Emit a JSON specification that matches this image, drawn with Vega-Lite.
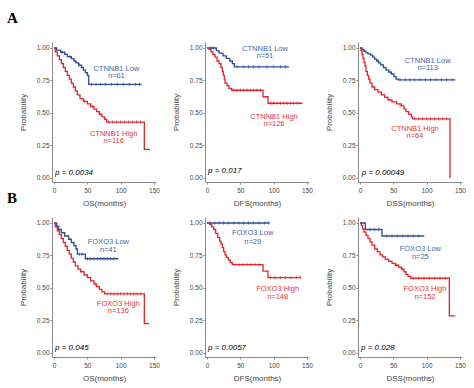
{
"$schema": "https://vega.github.io/schema/vega-lite/v6.json",
"padding": {"left": 7, "top": 11, "right": 5, "bottom": 5},
"background": "white",
"config": {
 "font": "Liberation Sans",
 "view": {"stroke": null},
 "axis": {"grid": false, "domainColor": "#8a8a8a", "tickColor": "#8a8a8a", "tickSize": 2, "labelColor": "#444", "labelFontSize": 6.5, "titleColor": "#444", "titleFontSize": 8, "titleFontWeight": "normal"},
 "axisX": {"labelPadding": 3, "titlePadding": 6},
 "axisY": {"labelPadding": 1, "titlePadding": 9}
},
"data": {"values": [
{"p":"A1","g":"Low","k":"l","t":0,"s":1},{"p":"A1","g":"Low","k":"l","t":4,"s":0.984},{"p":"A1","g":"Low","k":"l","t":10,"s":0.967},{"p":"A1","g":"Low","k":"l","t":16,"s":0.951},{"p":"A1","g":"Low","k":"l","t":20,"s":0.934},{"p":"A1","g":"Low","k":"l","t":26,"s":0.918},{"p":"A1","g":"Low","k":"l","t":30,"s":0.9},{"p":"A1","g":"Low","k":"l","t":33,"s":0.885},{"p":"A1","g":"Low","k":"l","t":37,"s":0.868},{"p":"A1","g":"Low","k":"l","t":41,"s":0.85},{"p":"A1","g":"Low","k":"l","t":44,"s":0.83},{"p":"A1","g":"Low","k":"l","t":47,"s":0.81},{"p":"A1","g":"Low","k":"l","t":50,"s":0.79},{"p":"A1","g":"Low","k":"l","t":52,"s":0.72},{"p":"A1","g":"Low","k":"l","t":131.5,"s":0.72},
{"p":"A1","g":"High","k":"l","t":0,"s":1},{"p":"A1","g":"High","k":"l","t":2,"s":0.97},{"p":"A1","g":"High","k":"l","t":5,"s":0.94},{"p":"A1","g":"High","k":"l","t":8,"s":0.91},{"p":"A1","g":"High","k":"l","t":11,"s":0.88},{"p":"A1","g":"High","k":"l","t":14,"s":0.85},{"p":"A1","g":"High","k":"l","t":17,"s":0.82},{"p":"A1","g":"High","k":"l","t":20,"s":0.79},{"p":"A1","g":"High","k":"l","t":23,"s":0.76},{"p":"A1","g":"High","k":"l","t":26,"s":0.73},{"p":"A1","g":"High","k":"l","t":29,"s":0.7},{"p":"A1","g":"High","k":"l","t":32,"s":0.67},{"p":"A1","g":"High","k":"l","t":35,"s":0.64},{"p":"A1","g":"High","k":"l","t":39,"s":0.61},{"p":"A1","g":"High","k":"l","t":44,"s":0.59},{"p":"A1","g":"High","k":"l","t":50,"s":0.57},{"p":"A1","g":"High","k":"l","t":55,"s":0.55},{"p":"A1","g":"High","k":"l","t":60,"s":0.53},{"p":"A1","g":"High","k":"l","t":64,"s":0.51},{"p":"A1","g":"High","k":"l","t":68,"s":0.49},{"p":"A1","g":"High","k":"l","t":72,"s":0.47},{"p":"A1","g":"High","k":"l","t":76,"s":0.45},{"p":"A1","g":"High","k":"l","t":79,"s":0.43},{"p":"A1","g":"High","k":"l","t":135.5,"s":0.22},{"p":"A1","g":"High","k":"l","t":144,"s":0.22},
{"p":"A2","g":"Low","k":"l","t":0,"s":1},{"p":"A2","g":"Low","k":"l","t":14,"s":0.98},{"p":"A2","g":"Low","k":"l","t":18,"s":0.96},{"p":"A2","g":"Low","k":"l","t":24,"s":0.94},{"p":"A2","g":"Low","k":"l","t":29,"s":0.92},{"p":"A2","g":"Low","k":"l","t":34,"s":0.9},{"p":"A2","g":"Low","k":"l","t":38,"s":0.88},{"p":"A2","g":"Low","k":"l","t":41,"s":0.855},{"p":"A2","g":"Low","k":"l","t":123,"s":0.855},
{"p":"A2","g":"High","k":"l","t":0,"s":1},{"p":"A2","g":"High","k":"l","t":3,"s":0.99},{"p":"A2","g":"High","k":"l","t":6,"s":0.97},{"p":"A2","g":"High","k":"l","t":9,"s":0.95},{"p":"A2","g":"High","k":"l","t":12,"s":0.93},{"p":"A2","g":"High","k":"l","t":15,"s":0.9},{"p":"A2","g":"High","k":"l","t":18,"s":0.88},{"p":"A2","g":"High","k":"l","t":21,"s":0.85},{"p":"A2","g":"High","k":"l","t":23,"s":0.82},{"p":"A2","g":"High","k":"l","t":24.5,"s":0.79},{"p":"A2","g":"High","k":"l","t":26,"s":0.76},{"p":"A2","g":"High","k":"l","t":27,"s":0.73},{"p":"A2","g":"High","k":"l","t":30,"s":0.71},{"p":"A2","g":"High","k":"l","t":33,"s":0.69},{"p":"A2","g":"High","k":"l","t":37,"s":0.675},{"p":"A2","g":"High","k":"l","t":84,"s":0.625},{"p":"A2","g":"High","k":"l","t":91.5,"s":0.575},{"p":"A2","g":"High","k":"l","t":143,"s":0.575},
{"p":"A3","g":"Low","k":"l","t":0,"s":1},{"p":"A3","g":"Low","k":"l","t":3,"s":0.99},{"p":"A3","g":"Low","k":"l","t":6,"s":0.975},{"p":"A3","g":"Low","k":"l","t":9,"s":0.965},{"p":"A3","g":"Low","k":"l","t":12,"s":0.955},{"p":"A3","g":"Low","k":"l","t":16,"s":0.945},{"p":"A3","g":"Low","k":"l","t":19,"s":0.93},{"p":"A3","g":"Low","k":"l","t":22,"s":0.915},{"p":"A3","g":"Low","k":"l","t":25,"s":0.9},{"p":"A3","g":"Low","k":"l","t":28,"s":0.885},{"p":"A3","g":"Low","k":"l","t":31,"s":0.87},{"p":"A3","g":"Low","k":"l","t":35,"s":0.85},{"p":"A3","g":"Low","k":"l","t":39,"s":0.83},{"p":"A3","g":"Low","k":"l","t":43,"s":0.815},{"p":"A3","g":"Low","k":"l","t":47,"s":0.8},{"p":"A3","g":"Low","k":"l","t":51,"s":0.78},{"p":"A3","g":"Low","k":"l","t":54,"s":0.76},{"p":"A3","g":"Low","k":"l","t":57,"s":0.755},{"p":"A3","g":"Low","k":"l","t":143,"s":0.755},
{"p":"A3","g":"High","k":"l","t":0,"s":1},{"p":"A3","g":"High","k":"l","t":1.5,"s":0.98},{"p":"A3","g":"High","k":"l","t":3,"s":0.95},{"p":"A3","g":"High","k":"l","t":4.5,"s":0.92},{"p":"A3","g":"High","k":"l","t":6,"s":0.89},{"p":"A3","g":"High","k":"l","t":7.5,"s":0.86},{"p":"A3","g":"High","k":"l","t":9,"s":0.82},{"p":"A3","g":"High","k":"l","t":11,"s":0.79},{"p":"A3","g":"High","k":"l","t":13,"s":0.76},{"p":"A3","g":"High","k":"l","t":15,"s":0.73},{"p":"A3","g":"High","k":"l","t":18,"s":0.7},{"p":"A3","g":"High","k":"l","t":22,"s":0.68},{"p":"A3","g":"High","k":"l","t":27,"s":0.66},{"p":"A3","g":"High","k":"l","t":32,"s":0.64},{"p":"A3","g":"High","k":"l","t":37,"s":0.62},{"p":"A3","g":"High","k":"l","t":42,"s":0.6},{"p":"A3","g":"High","k":"l","t":48,"s":0.585},{"p":"A3","g":"High","k":"l","t":55,"s":0.57},{"p":"A3","g":"High","k":"l","t":62,"s":0.555},{"p":"A3","g":"High","k":"l","t":66,"s":0.53},{"p":"A3","g":"High","k":"l","t":69,"s":0.51},{"p":"A3","g":"High","k":"l","t":73,"s":0.49},{"p":"A3","g":"High","k":"l","t":77,"s":0.47},{"p":"A3","g":"High","k":"l","t":79,"s":0.455},{"p":"A3","g":"High","k":"l","t":135,"s":0},
{"p":"B1","g":"Low","k":"l","t":0,"s":1},{"p":"B1","g":"Low","k":"l","t":4,"s":0.975},{"p":"B1","g":"Low","k":"l","t":7,"s":0.95},{"p":"B1","g":"Low","k":"l","t":11,"s":0.925},{"p":"B1","g":"Low","k":"l","t":16,"s":0.9},{"p":"B1","g":"Low","k":"l","t":22,"s":0.875},{"p":"B1","g":"Low","k":"l","t":26,"s":0.85},{"p":"B1","g":"Low","k":"l","t":30,"s":0.825},{"p":"B1","g":"Low","k":"l","t":33,"s":0.8},{"p":"B1","g":"Low","k":"l","t":35,"s":0.76},{"p":"B1","g":"Low","k":"l","t":47,"s":0.725},{"p":"B1","g":"Low","k":"l","t":96.5,"s":0.725},
{"p":"B1","g":"High","k":"l","t":0,"s":1},{"p":"B1","g":"High","k":"l","t":2,"s":0.97},{"p":"B1","g":"High","k":"l","t":5,"s":0.94},{"p":"B1","g":"High","k":"l","t":8,"s":0.91},{"p":"B1","g":"High","k":"l","t":11,"s":0.88},{"p":"B1","g":"High","k":"l","t":14,"s":0.85},{"p":"B1","g":"High","k":"l","t":17,"s":0.82},{"p":"B1","g":"High","k":"l","t":20,"s":0.79},{"p":"B1","g":"High","k":"l","t":23,"s":0.76},{"p":"B1","g":"High","k":"l","t":26,"s":0.73},{"p":"B1","g":"High","k":"l","t":29,"s":0.7},{"p":"B1","g":"High","k":"l","t":32,"s":0.67},{"p":"B1","g":"High","k":"l","t":36,"s":0.645},{"p":"B1","g":"High","k":"l","t":40,"s":0.625},{"p":"B1","g":"High","k":"l","t":45,"s":0.6},{"p":"B1","g":"High","k":"l","t":50,"s":0.58},{"p":"B1","g":"High","k":"l","t":55,"s":0.555},{"p":"B1","g":"High","k":"l","t":60,"s":0.53},{"p":"B1","g":"High","k":"l","t":64,"s":0.51},{"p":"B1","g":"High","k":"l","t":68,"s":0.49},{"p":"B1","g":"High","k":"l","t":72,"s":0.47},{"p":"B1","g":"High","k":"l","t":76,"s":0.455},{"p":"B1","g":"High","k":"l","t":135.5,"s":0.225},{"p":"B1","g":"High","k":"l","t":142.5,"s":0.225},
{"p":"B2","g":"Low","k":"l","t":0,"s":1},{"p":"B2","g":"Low","k":"l","t":94,"s":1},
{"p":"B2","g":"High","k":"l","t":0,"s":1},{"p":"B2","g":"High","k":"l","t":4,"s":0.99},{"p":"B2","g":"High","k":"l","t":7,"s":0.97},{"p":"B2","g":"High","k":"l","t":10,"s":0.95},{"p":"B2","g":"High","k":"l","t":13,"s":0.92},{"p":"B2","g":"High","k":"l","t":16,"s":0.89},{"p":"B2","g":"High","k":"l","t":19,"s":0.86},{"p":"B2","g":"High","k":"l","t":21,"s":0.84},{"p":"B2","g":"High","k":"l","t":23,"s":0.81},{"p":"B2","g":"High","k":"l","t":25,"s":0.78},{"p":"B2","g":"High","k":"l","t":27,"s":0.755},{"p":"B2","g":"High","k":"l","t":29,"s":0.735},{"p":"B2","g":"High","k":"l","t":32,"s":0.715},{"p":"B2","g":"High","k":"l","t":35,"s":0.695},{"p":"B2","g":"High","k":"l","t":38,"s":0.68},{"p":"B2","g":"High","k":"l","t":84,"s":0.63},{"p":"B2","g":"High","k":"l","t":91.5,"s":0.58},{"p":"B2","g":"High","k":"l","t":141.5,"s":0.58},
{"p":"B3","g":"Low","k":"l","t":0,"s":1},{"p":"B3","g":"Low","k":"l","t":8,"s":0.95},{"p":"B3","g":"Low","k":"l","t":33,"s":0.9},{"p":"B3","g":"Low","k":"l","t":96.5,"s":0.9},
{"p":"B3","g":"High","k":"l","t":0,"s":1},{"p":"B3","g":"High","k":"l","t":2,"s":0.98},{"p":"B3","g":"High","k":"l","t":4,"s":0.955},{"p":"B3","g":"High","k":"l","t":6,"s":0.93},{"p":"B3","g":"High","k":"l","t":9,"s":0.905},{"p":"B3","g":"High","k":"l","t":12,"s":0.88},{"p":"B3","g":"High","k":"l","t":15,"s":0.855},{"p":"B3","g":"High","k":"l","t":18,"s":0.83},{"p":"B3","g":"High","k":"l","t":22,"s":0.8},{"p":"B3","g":"High","k":"l","t":26,"s":0.78},{"p":"B3","g":"High","k":"l","t":30,"s":0.755},{"p":"B3","g":"High","k":"l","t":34,"s":0.74},{"p":"B3","g":"High","k":"l","t":38,"s":0.72},{"p":"B3","g":"High","k":"l","t":43,"s":0.705},{"p":"B3","g":"High","k":"l","t":48,"s":0.69},{"p":"B3","g":"High","k":"l","t":53,"s":0.675},{"p":"B3","g":"High","k":"l","t":58,"s":0.66},{"p":"B3","g":"High","k":"l","t":62,"s":0.645},{"p":"B3","g":"High","k":"l","t":66,"s":0.625},{"p":"B3","g":"High","k":"l","t":69,"s":0.605},{"p":"B3","g":"High","k":"l","t":72,"s":0.59},{"p":"B3","g":"High","k":"l","t":76,"s":0.575},{"p":"B3","g":"High","k":"l","t":134,"s":0.285},{"p":"B3","g":"High","k":"l","t":143,"s":0.285},

{"p":"A1","g":"Low","k":"c","t":12,"s":0.967},{"p":"A1","g":"Low","k":"c","t":24,"s":0.934},{"p":"A1","g":"Low","k":"c","t":38,"s":0.868},{"p":"A1","g":"Low","k":"c","t":56,"s":0.72},{"p":"A1","g":"Low","k":"c","t":63,"s":0.72},{"p":"A1","g":"Low","k":"c","t":70,"s":0.72},{"p":"A1","g":"Low","k":"c","t":77,"s":0.72},{"p":"A1","g":"Low","k":"c","t":86,"s":0.72},{"p":"A1","g":"Low","k":"c","t":95,"s":0.72},{"p":"A1","g":"Low","k":"c","t":104,"s":0.72},{"p":"A1","g":"Low","k":"c","t":113,"s":0.72},{"p":"A1","g":"Low","k":"c","t":122,"s":0.72},{"p":"A1","g":"Low","k":"c","t":128,"s":0.72},
{"p":"A1","g":"High","k":"c","t":46,"s":0.59},{"p":"A1","g":"High","k":"c","t":58,"s":0.55},{"p":"A1","g":"High","k":"c","t":70,"s":0.49},{"p":"A1","g":"High","k":"c","t":82,"s":0.43},{"p":"A1","g":"High","k":"c","t":88,"s":0.43},{"p":"A1","g":"High","k":"c","t":94,"s":0.43},{"p":"A1","g":"High","k":"c","t":100,"s":0.43},{"p":"A1","g":"High","k":"c","t":106,"s":0.43},{"p":"A1","g":"High","k":"c","t":112,"s":0.43},{"p":"A1","g":"High","k":"c","t":118,"s":0.43},{"p":"A1","g":"High","k":"c","t":124,"s":0.43},{"p":"A1","g":"High","k":"c","t":130,"s":0.43},
{"p":"A2","g":"Low","k":"c","t":6,"s":1},{"p":"A2","g":"Low","k":"c","t":10,"s":1},{"p":"A2","g":"Low","k":"c","t":45,"s":0.855},{"p":"A2","g":"Low","k":"c","t":55,"s":0.855},{"p":"A2","g":"Low","k":"c","t":62,"s":0.855},{"p":"A2","g":"Low","k":"c","t":70,"s":0.855},{"p":"A2","g":"Low","k":"c","t":78,"s":0.855},{"p":"A2","g":"Low","k":"c","t":90,"s":0.855},{"p":"A2","g":"Low","k":"c","t":100,"s":0.855},{"p":"A2","g":"Low","k":"c","t":110,"s":0.855},{"p":"A2","g":"Low","k":"c","t":118,"s":0.855},
{"p":"A2","g":"High","k":"c","t":40,"s":0.675},{"p":"A2","g":"High","k":"c","t":45,"s":0.675},{"p":"A2","g":"High","k":"c","t":50,"s":0.675},{"p":"A2","g":"High","k":"c","t":55,"s":0.675},{"p":"A2","g":"High","k":"c","t":60,"s":0.675},{"p":"A2","g":"High","k":"c","t":65,"s":0.675},{"p":"A2","g":"High","k":"c","t":70,"s":0.675},{"p":"A2","g":"High","k":"c","t":75,"s":0.675},{"p":"A2","g":"High","k":"c","t":80,"s":0.675},{"p":"A2","g":"High","k":"c","t":95,"s":0.575},{"p":"A2","g":"High","k":"c","t":100,"s":0.575},{"p":"A2","g":"High","k":"c","t":105,"s":0.575},{"p":"A2","g":"High","k":"c","t":110,"s":0.575},{"p":"A2","g":"High","k":"c","t":115,"s":0.575},{"p":"A2","g":"High","k":"c","t":120,"s":0.575},{"p":"A2","g":"High","k":"c","t":125,"s":0.575},{"p":"A2","g":"High","k":"c","t":130,"s":0.575},{"p":"A2","g":"High","k":"c","t":136,"s":0.575},
{"p":"A3","g":"Low","k":"c","t":27,"s":0.9},{"p":"A3","g":"Low","k":"c","t":45,"s":0.815},{"p":"A3","g":"Low","k":"c","t":60,"s":0.755},{"p":"A3","g":"Low","k":"c","t":68,"s":0.755},{"p":"A3","g":"Low","k":"c","t":75,"s":0.755},{"p":"A3","g":"Low","k":"c","t":82,"s":0.755},{"p":"A3","g":"Low","k":"c","t":90,"s":0.755},{"p":"A3","g":"Low","k":"c","t":98,"s":0.755},{"p":"A3","g":"Low","k":"c","t":106,"s":0.755},{"p":"A3","g":"Low","k":"c","t":114,"s":0.755},{"p":"A3","g":"Low","k":"c","t":122,"s":0.755},{"p":"A3","g":"Low","k":"c","t":130,"s":0.755},{"p":"A3","g":"Low","k":"c","t":138,"s":0.755},
{"p":"A3","g":"High","k":"c","t":60,"s":0.555},{"p":"A3","g":"High","k":"c","t":82,"s":0.455},{"p":"A3","g":"High","k":"c","t":88,"s":0.455},{"p":"A3","g":"High","k":"c","t":94,"s":0.455},{"p":"A3","g":"High","k":"c","t":100,"s":0.455},{"p":"A3","g":"High","k":"c","t":106,"s":0.455},{"p":"A3","g":"High","k":"c","t":112,"s":0.455},{"p":"A3","g":"High","k":"c","t":118,"s":0.455},{"p":"A3","g":"High","k":"c","t":124,"s":0.455},{"p":"A3","g":"High","k":"c","t":130,"s":0.455},
{"p":"B1","g":"Low","k":"c","t":38,"s":0.76},{"p":"B1","g":"Low","k":"c","t":42,"s":0.76},{"p":"B1","g":"Low","k":"c","t":50,"s":0.725},{"p":"B1","g":"Low","k":"c","t":55,"s":0.725},{"p":"B1","g":"Low","k":"c","t":60,"s":0.725},{"p":"B1","g":"Low","k":"c","t":65,"s":0.725},{"p":"B1","g":"Low","k":"c","t":70,"s":0.725},{"p":"B1","g":"Low","k":"c","t":75,"s":0.725},{"p":"B1","g":"Low","k":"c","t":80,"s":0.725},{"p":"B1","g":"Low","k":"c","t":85,"s":0.725},{"p":"B1","g":"Low","k":"c","t":90,"s":0.725},
{"p":"B1","g":"High","k":"c","t":62,"s":0.53},{"p":"B1","g":"High","k":"c","t":80,"s":0.455},{"p":"B1","g":"High","k":"c","t":85,"s":0.455},{"p":"B1","g":"High","k":"c","t":90,"s":0.455},{"p":"B1","g":"High","k":"c","t":95,"s":0.455},{"p":"B1","g":"High","k":"c","t":100,"s":0.455},{"p":"B1","g":"High","k":"c","t":105,"s":0.455},{"p":"B1","g":"High","k":"c","t":110,"s":0.455},{"p":"B1","g":"High","k":"c","t":115,"s":0.455},{"p":"B1","g":"High","k":"c","t":120,"s":0.455},{"p":"B1","g":"High","k":"c","t":125,"s":0.455},{"p":"B1","g":"High","k":"c","t":130,"s":0.455},
{"p":"B2","g":"Low","k":"c","t":5,"s":1},{"p":"B2","g":"Low","k":"c","t":12,"s":1},{"p":"B2","g":"Low","k":"c","t":18,"s":1},{"p":"B2","g":"Low","k":"c","t":25,"s":1},{"p":"B2","g":"Low","k":"c","t":32,"s":1},{"p":"B2","g":"Low","k":"c","t":40,"s":1},{"p":"B2","g":"Low","k":"c","t":48,"s":1},{"p":"B2","g":"Low","k":"c","t":55,"s":1},{"p":"B2","g":"Low","k":"c","t":62,"s":1},{"p":"B2","g":"Low","k":"c","t":70,"s":1},{"p":"B2","g":"Low","k":"c","t":78,"s":1},{"p":"B2","g":"Low","k":"c","t":86,"s":1},{"p":"B2","g":"Low","k":"c","t":92,"s":1},
{"p":"B2","g":"High","k":"c","t":42,"s":0.68},{"p":"B2","g":"High","k":"c","t":48,"s":0.68},{"p":"B2","g":"High","k":"c","t":54,"s":0.68},{"p":"B2","g":"High","k":"c","t":60,"s":0.68},{"p":"B2","g":"High","k":"c","t":66,"s":0.68},{"p":"B2","g":"High","k":"c","t":72,"s":0.68},{"p":"B2","g":"High","k":"c","t":78,"s":0.68},{"p":"B2","g":"High","k":"c","t":95,"s":0.58},{"p":"B2","g":"High","k":"c","t":102,"s":0.58},{"p":"B2","g":"High","k":"c","t":110,"s":0.58},{"p":"B2","g":"High","k":"c","t":118,"s":0.58},{"p":"B2","g":"High","k":"c","t":126,"s":0.58},{"p":"B2","g":"High","k":"c","t":134,"s":0.58},{"p":"B2","g":"High","k":"c","t":140,"s":0.58},
{"p":"B3","g":"Low","k":"c","t":15,"s":0.95},{"p":"B3","g":"Low","k":"c","t":22,"s":0.95},{"p":"B3","g":"Low","k":"c","t":28,"s":0.95},{"p":"B3","g":"Low","k":"c","t":40,"s":0.9},{"p":"B3","g":"Low","k":"c","t":48,"s":0.9},{"p":"B3","g":"Low","k":"c","t":56,"s":0.9},{"p":"B3","g":"Low","k":"c","t":64,"s":0.9},{"p":"B3","g":"Low","k":"c","t":72,"s":0.9},{"p":"B3","g":"Low","k":"c","t":80,"s":0.9},{"p":"B3","g":"Low","k":"c","t":88,"s":0.9},
{"p":"B3","g":"High","k":"c","t":55,"s":0.675},{"p":"B3","g":"High","k":"c","t":64,"s":0.645},{"p":"B3","g":"High","k":"c","t":80,"s":0.575},{"p":"B3","g":"High","k":"c","t":88,"s":0.575},{"p":"B3","g":"High","k":"c","t":96,"s":0.575},{"p":"B3","g":"High","k":"c","t":104,"s":0.575},{"p":"B3","g":"High","k":"c","t":112,"s":0.575},{"p":"B3","g":"High","k":"c","t":120,"s":0.575},{"p":"B3","g":"High","k":"c","t":128,"s":0.575},

{"p":"A1","g":"Low","k":"x","t":93.5,"s":0.836,"txt":"CTNNB1 Low"},{"p":"A1","g":"Low","k":"x","t":93.5,"s":0.785,"txt":"n=61"},{"p":"A1","g":"High","k":"x","t":89.5,"s":0.336,"txt":"CTNNB1 High"},{"p":"A1","g":"High","k":"x","t":89.5,"s":0.285,"txt":"n=116"},
{"p":"A2","g":"Low","k":"x","t":87,"s":0.99,"txt":"CTNNB1 Low"},{"p":"A2","g":"Low","k":"x","t":87,"s":0.94,"txt":"n=51"},{"p":"A2","g":"High","k":"x","t":100.5,"s":0.47,"txt":"CTNNB1 High"},{"p":"A2","g":"High","k":"x","t":100.5,"s":0.415,"txt":"n=126"},
{"p":"A3","g":"Low","k":"x","t":101.5,"s":0.9,"txt":"CTNNB1 Low"},{"p":"A3","g":"Low","k":"x","t":101.5,"s":0.845,"txt":"n=113"},{"p":"A3","g":"High","k":"x","t":82.5,"s":0.38,"txt":"CTNNB1 High"},{"p":"A3","g":"High","k":"x","t":82.5,"s":0.325,"txt":"n=64"},
{"p":"B1","g":"Low","k":"x","t":81.5,"s":0.85,"txt":"FOXO3 Low"},{"p":"B1","g":"Low","k":"x","t":81.5,"s":0.79,"txt":"n=41"},{"p":"B1","g":"High","k":"x","t":96.5,"s":0.375,"txt":"FOXO3 High"},{"p":"B1","g":"High","k":"x","t":96.5,"s":0.32,"txt":"n=136"},
{"p":"B2","g":"Low","k":"x","t":68.5,"s":0.92,"txt":"FOXO3 Low"},{"p":"B2","g":"Low","k":"x","t":68.5,"s":0.855,"txt":"n=29"},{"p":"B2","g":"High","k":"x","t":106,"s":0.49,"txt":"FOXO3 High"},{"p":"B2","g":"High","k":"x","t":106,"s":0.43,"txt":"n=148"},
{"p":"B3","g":"Low","k":"x","t":90.5,"s":0.8,"txt":"FOXO3 Low"},{"p":"B3","g":"Low","k":"x","t":90.5,"s":0.74,"txt":"n=25"},{"p":"B3","g":"High","k":"x","t":97.5,"s":0.49,"txt":"FOXO3 High"},{"p":"B3","g":"High","k":"x","t":97.5,"s":0.43,"txt":"n=152"},

{"p":"A1","g":"","k":"p","t":1.5,"s":0.04,"txt":"p = 0.0034"},
{"p":"A2","g":"","k":"p","t":1.5,"s":0.05,"txt":"p = 0.017"},
{"p":"A3","g":"","k":"p","t":2.5,"s":0.04,"txt":"p = 0.00049"},
{"p":"B1","g":"","k":"p","t":1.5,"s":0.035,"txt":"p = 0.045"},
{"p":"B2","g":"","k":"p","t":1.5,"s":0.035,"txt":"p = 0.0057"},
{"p":"B3","g":"","k":"p","t":1.5,"s":0.035,"txt":"p = 0.028"}
]},
"columns": 3,
"spacing": {"row": 35, "column": 49},
"bounds": "flush",
"concat": [
 {"width":104,"height":140,"title":{"text":"A","anchor":"start","frame":"group","font":"Liberation Serif","fontSize":15,"fontWeight":"bold","color":"#000","dx":-45,"offset":16},
  "transform":[{"filter":"datum.p==='A1'"}],
  "encoding":{"x":{"field":"t","type":"quantitative","scale":{"domain":[-3,153],"nice":false,"zero":false},"axis":{"values":[0,50,100,150],"title":"OS(months)"}},"y":{"field":"s","type":"quantitative","scale":{"domain":[-0.031,1.046],"nice":false},"axis":{"values":[0,0.25,0.5,0.75,1],"format":".2f","title":"Probability"}}},
  "layer":[
   {"transform":[{"filter":"datum.k==='l'"}],"mark":{"type":"line","interpolate":"step-after","strokeWidth":1.3},"encoding":{"color":{"field":"g","type":"nominal","scale":{"domain":["Low","High"],"range":["#2d4c98","#e3242b"]},"legend":null}}},
   {"transform":[{"filter":"datum.k==='c'"}],"mark":{"type":"tick","orient":"vertical","size":3.5,"thickness":0.9},"encoding":{"color":{"field":"g","type":"nominal","legend":null}}},
   {"transform":[{"filter":"datum.k==='x'"}],"mark":{"type":"text","fontSize":7.5,"align":"center","baseline":"middle"},"encoding":{"text":{"field":"txt"},"color":{"condition":{"test":"datum.g==='Low'","value":"#4565ab"},"value":"#e0383d"}}},
   {"transform":[{"filter":"datum.k==='p'"}],"mark":{"type":"text","fontSize":8,"fontStyle":"italic","align":"left","baseline":"middle","color":"#000"},"encoding":{"text":{"field":"txt"}}}
  ]},
 {"width":104,"height":140,
  "transform":[{"filter":"datum.p==='A2'"}],
  "encoding":{"x":{"field":"t","type":"quantitative","scale":{"domain":[-3,153],"nice":false,"zero":false},"axis":{"values":[0,50,100,150],"title":"DFS(months)"}},"y":{"field":"s","type":"quantitative","scale":{"domain":[-0.031,1.046],"nice":false},"axis":{"values":[0,0.25,0.5,0.75,1],"format":".2f","title":"Probability"}}},
  "layer":[
   {"transform":[{"filter":"datum.k==='l'"}],"mark":{"type":"line","interpolate":"step-after","strokeWidth":1.3},"encoding":{"color":{"field":"g","type":"nominal","scale":{"domain":["Low","High"],"range":["#2d4c98","#e3242b"]},"legend":null}}},
   {"transform":[{"filter":"datum.k==='c'"}],"mark":{"type":"tick","orient":"vertical","size":3.5,"thickness":0.9},"encoding":{"color":{"field":"g","type":"nominal","legend":null}}},
   {"transform":[{"filter":"datum.k==='x'"}],"mark":{"type":"text","fontSize":7.5,"align":"center","baseline":"middle"},"encoding":{"text":{"field":"txt"},"color":{"condition":{"test":"datum.g==='Low'","value":"#4565ab"},"value":"#e0383d"}}},
   {"transform":[{"filter":"datum.k==='p'"}],"mark":{"type":"text","fontSize":8,"fontStyle":"italic","align":"left","baseline":"middle","color":"#000"},"encoding":{"text":{"field":"txt"}}}
  ]},
 {"width":104,"height":140,
  "transform":[{"filter":"datum.p==='A3'"}],
  "encoding":{"x":{"field":"t","type":"quantitative","scale":{"domain":[-3,153],"nice":false,"zero":false},"axis":{"values":[0,50,100,150],"title":"DSS(months)"}},"y":{"field":"s","type":"quantitative","scale":{"domain":[-0.031,1.046],"nice":false},"axis":{"values":[0,0.25,0.5,0.75,1],"format":".2f","title":"Probability"}}},
  "layer":[
   {"transform":[{"filter":"datum.k==='l'"}],"mark":{"type":"line","interpolate":"step-after","strokeWidth":1.3},"encoding":{"color":{"field":"g","type":"nominal","scale":{"domain":["Low","High"],"range":["#2d4c98","#e3242b"]},"legend":null}}},
   {"transform":[{"filter":"datum.k==='c'"}],"mark":{"type":"tick","orient":"vertical","size":3.5,"thickness":0.9},"encoding":{"color":{"field":"g","type":"nominal","legend":null}}},
   {"transform":[{"filter":"datum.k==='x'"}],"mark":{"type":"text","fontSize":7.5,"align":"center","baseline":"middle"},"encoding":{"text":{"field":"txt"},"color":{"condition":{"test":"datum.g==='Low'","value":"#4565ab"},"value":"#e0383d"}}},
   {"transform":[{"filter":"datum.k==='p'"}],"mark":{"type":"text","fontSize":8,"fontStyle":"italic","align":"left","baseline":"middle","color":"#000"},"encoding":{"text":{"field":"txt"}}}
  ]},
 {"width":104,"height":140,"title":{"text":"B","anchor":"start","frame":"group","font":"Liberation Serif","fontSize":15,"fontWeight":"bold","color":"#000","dx":-45,"offset":11},
  "transform":[{"filter":"datum.p==='B1'"}],
  "encoding":{"x":{"field":"t","type":"quantitative","scale":{"domain":[-3,153],"nice":false,"zero":false},"axis":{"values":[0,50,100,150],"title":"OS(months)"}},"y":{"field":"s","type":"quantitative","scale":{"domain":[-0.031,1.046],"nice":false},"axis":{"values":[0,0.25,0.5,0.75,1],"format":".2f","title":"Probability"}}},
  "layer":[
   {"transform":[{"filter":"datum.k==='l'"}],"mark":{"type":"line","interpolate":"step-after","strokeWidth":1.3},"encoding":{"color":{"field":"g","type":"nominal","scale":{"domain":["Low","High"],"range":["#2d4c98","#e3242b"]},"legend":null}}},
   {"transform":[{"filter":"datum.k==='c'"}],"mark":{"type":"tick","orient":"vertical","size":3.5,"thickness":0.9},"encoding":{"color":{"field":"g","type":"nominal","legend":null}}},
   {"transform":[{"filter":"datum.k==='x'"}],"mark":{"type":"text","fontSize":7.5,"align":"center","baseline":"middle"},"encoding":{"text":{"field":"txt"},"color":{"condition":{"test":"datum.g==='Low'","value":"#4565ab"},"value":"#e0383d"}}},
   {"transform":[{"filter":"datum.k==='p'"}],"mark":{"type":"text","fontSize":8,"fontStyle":"italic","align":"left","baseline":"middle","color":"#000"},"encoding":{"text":{"field":"txt"}}}
  ]},
 {"width":104,"height":140,
  "transform":[{"filter":"datum.p==='B2'"}],
  "encoding":{"x":{"field":"t","type":"quantitative","scale":{"domain":[-3,153],"nice":false,"zero":false},"axis":{"values":[0,50,100,150],"title":"DFS(months)"}},"y":{"field":"s","type":"quantitative","scale":{"domain":[-0.031,1.046],"nice":false},"axis":{"values":[0,0.25,0.5,0.75,1],"format":".2f","title":"Probability"}}},
  "layer":[
   {"transform":[{"filter":"datum.k==='l'"}],"mark":{"type":"line","interpolate":"step-after","strokeWidth":1.3},"encoding":{"color":{"field":"g","type":"nominal","scale":{"domain":["Low","High"],"range":["#2d4c98","#e3242b"]},"legend":null}}},
   {"transform":[{"filter":"datum.k==='c'"}],"mark":{"type":"tick","orient":"vertical","size":3.5,"thickness":0.9},"encoding":{"color":{"field":"g","type":"nominal","legend":null}}},
   {"transform":[{"filter":"datum.k==='x'"}],"mark":{"type":"text","fontSize":7.5,"align":"center","baseline":"middle"},"encoding":{"text":{"field":"txt"},"color":{"condition":{"test":"datum.g==='Low'","value":"#4565ab"},"value":"#e0383d"}}},
   {"transform":[{"filter":"datum.k==='p'"}],"mark":{"type":"text","fontSize":8,"fontStyle":"italic","align":"left","baseline":"middle","color":"#000"},"encoding":{"text":{"field":"txt"}}}
  ]},
 {"width":104,"height":140,
  "transform":[{"filter":"datum.p==='B3'"}],
  "encoding":{"x":{"field":"t","type":"quantitative","scale":{"domain":[-3,153],"nice":false,"zero":false},"axis":{"values":[0,50,100,150],"title":"DSS(months)"}},"y":{"field":"s","type":"quantitative","scale":{"domain":[-0.031,1.046],"nice":false},"axis":{"values":[0,0.25,0.5,0.75,1],"format":".2f","title":"Probability"}}},
  "layer":[
   {"transform":[{"filter":"datum.k==='l'"}],"mark":{"type":"line","interpolate":"step-after","strokeWidth":1.3},"encoding":{"color":{"field":"g","type":"nominal","scale":{"domain":["Low","High"],"range":["#2d4c98","#e3242b"]},"legend":null}}},
   {"transform":[{"filter":"datum.k==='c'"}],"mark":{"type":"tick","orient":"vertical","size":3.5,"thickness":0.9},"encoding":{"color":{"field":"g","type":"nominal","legend":null}}},
   {"transform":[{"filter":"datum.k==='x'"}],"mark":{"type":"text","fontSize":7.5,"align":"center","baseline":"middle"},"encoding":{"text":{"field":"txt"},"color":{"condition":{"test":"datum.g==='Low'","value":"#4565ab"},"value":"#e0383d"}}},
   {"transform":[{"filter":"datum.k==='p'"}],"mark":{"type":"text","fontSize":8,"fontStyle":"italic","align":"left","baseline":"middle","color":"#000"},"encoding":{"text":{"field":"txt"}}}
  ]}
]
}
